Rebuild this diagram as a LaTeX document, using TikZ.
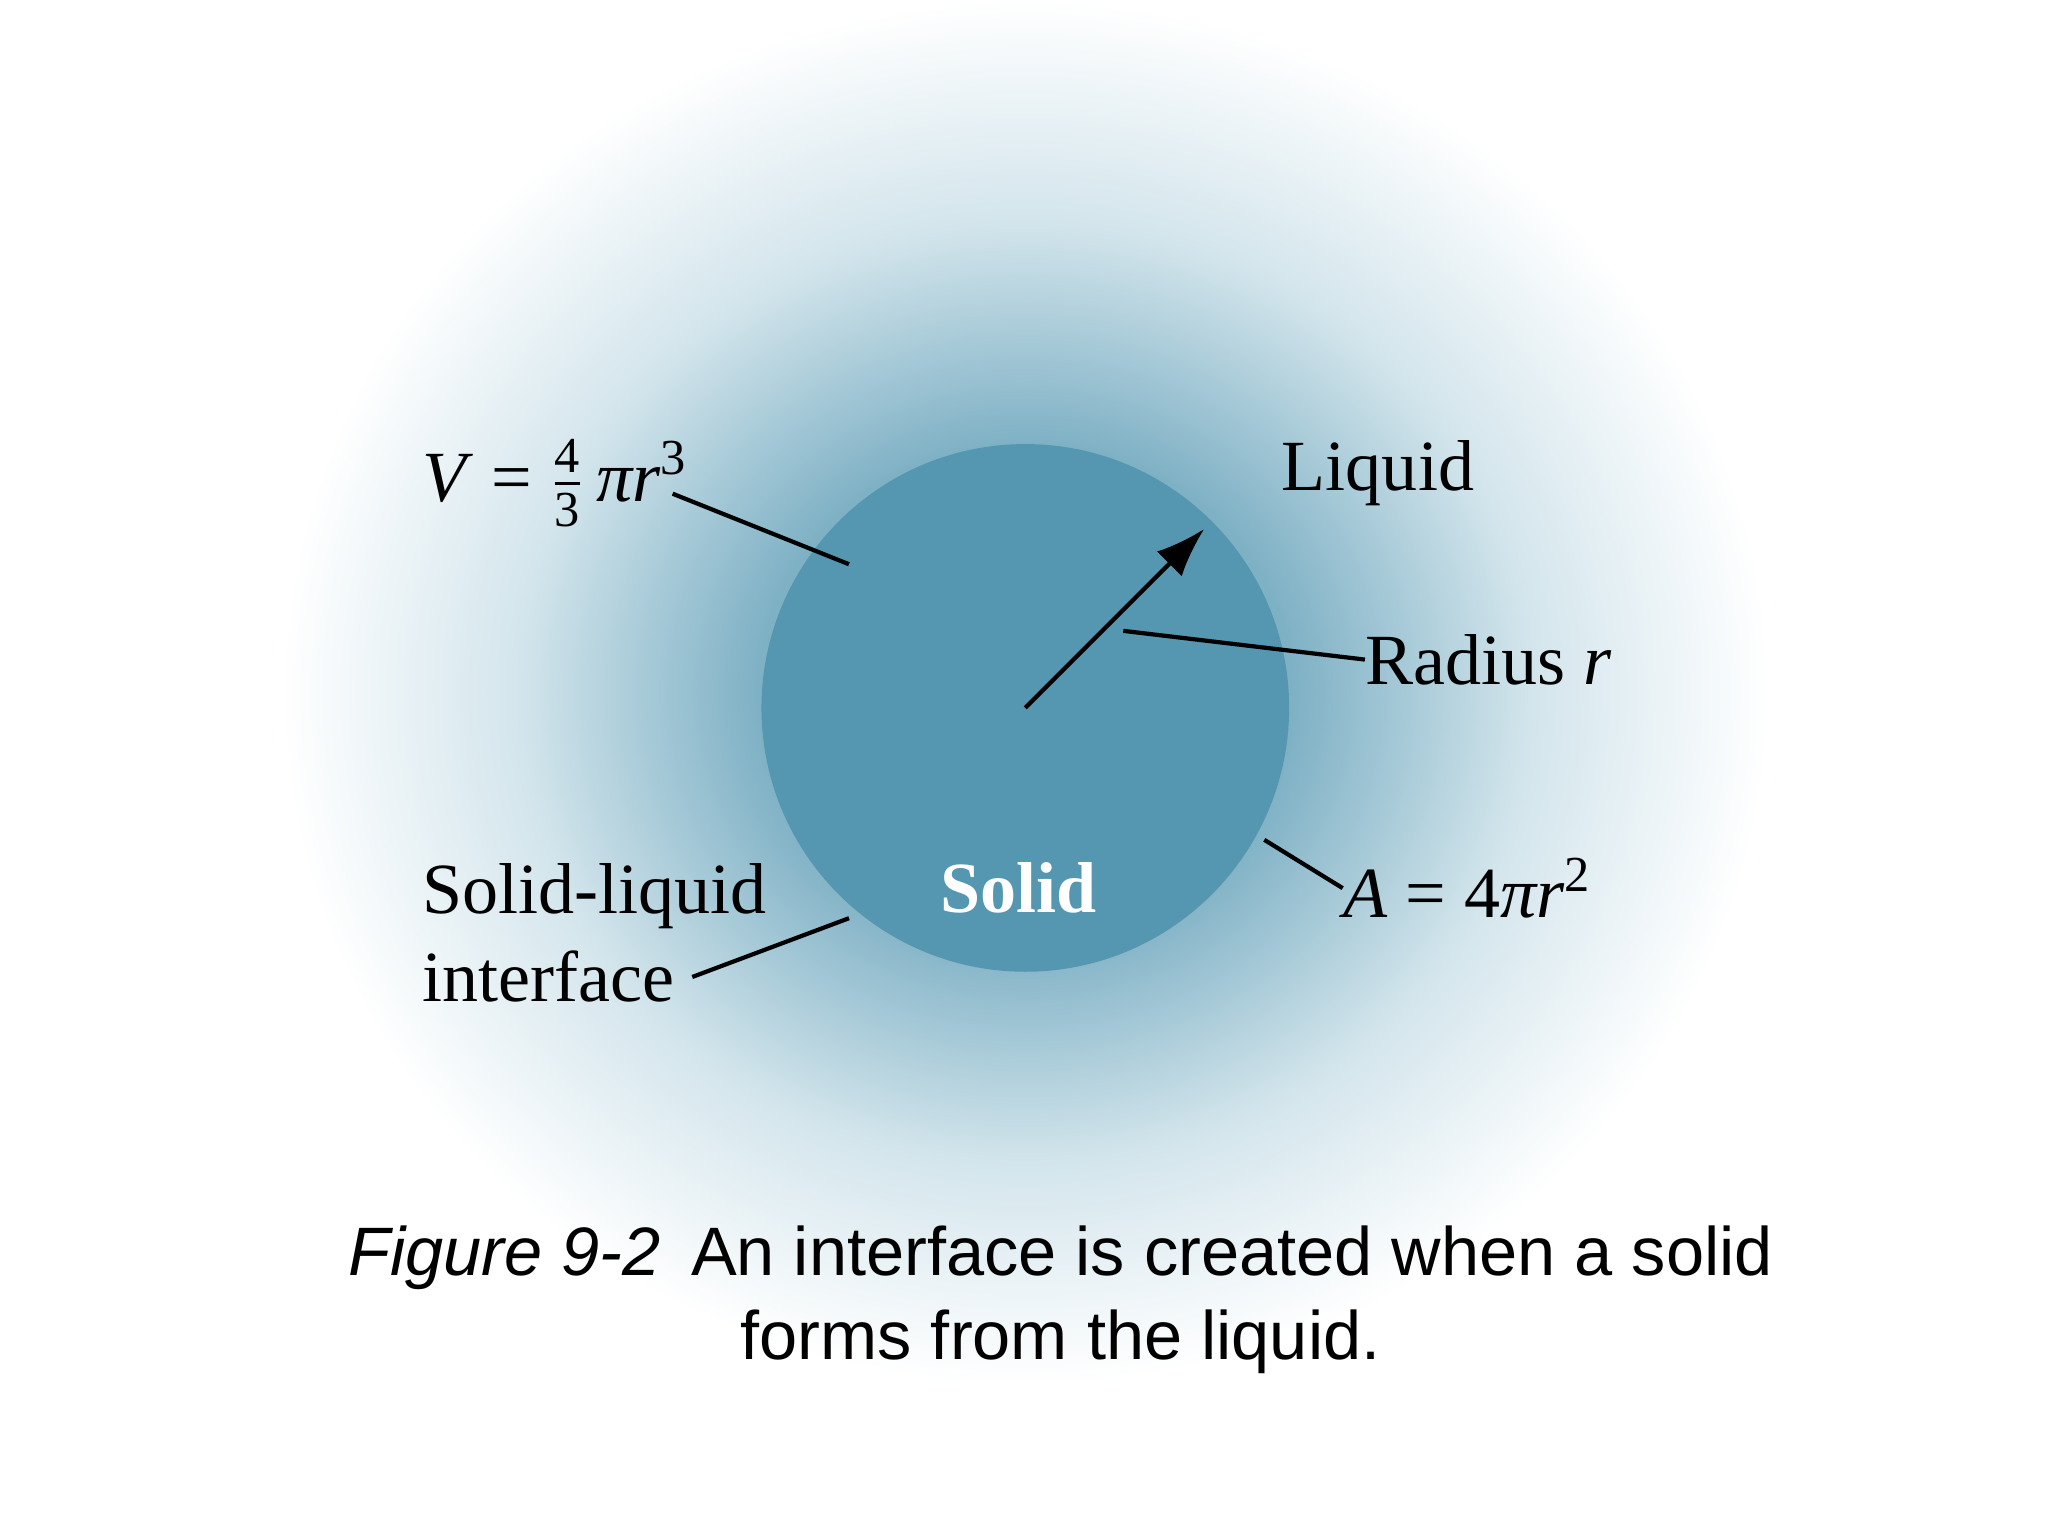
\documentclass[tikz,border=0pt]{standalone}
\usepackage{amsmath}
\usepackage{fontspec}
\setmainfont{Liberation Serif}
\setsansfont{Liberation Sans}
\usetikzlibrary{arrows.meta}
\definecolor{haloA}{HTML}{7FB1C5}
\definecolor{haloB}{HTML}{D3E5EC}
\definecolor{solidc}{HTML}{5597B1}
\pgfdeclareradialshading{glow}{\pgfpoint{0bp}{0bp}}{color(0bp)=(haloA); color(9bp)=(haloA); color(17bp)=(haloB); color(25bp)=(white); color(50bp)=(white)}
\tikzset{lbl/.style={font=\fontsize{20.5}{24}\selectfont, inner sep=0pt},
  lead/.style={line width=1.2pt, black}}
\begin{document}
\begin{tikzpicture}[x=0.01306cm, y=-0.01306cm]
\useasboundingbox (0,0) rectangle (1568,1176);
\fill[white] (0,0) rectangle (1568,1176);
\shade[shading=glow] (785,530) ellipse [x radius=570, y radius=530];
\node[circle, fill=solidc, minimum size={404*0.01306cm}, inner sep=0pt] (sol) at (785,542) {};
\coordinate (ctr) at (785,542);
\coordinate (tip) at (922,405);
\draw[lead, -{Latex[length=14pt,width=10pt]}] (ctr) -- (tip);
\node[lbl] (liq) at (1055,362) {Liquid};
\node[lbl, anchor=west] (rad) at (1045,505) {Radius \textit{r}};
\coordinate (r1) at (860,483);
\draw[lead] (r1) -- (rad.west);
\node[lbl] (vol) at (425,370) {\textit{V} = $\frac{\text{4}}{\text{3}}$\,\textit{πr}\textsuperscript{3}};
\coordinate (v1) at (515,378);
\coordinate (v2) at (650,432);
\draw[lead] (v1) -- (v2);
\node[lbl, anchor=west] (area) at (1028,680) {\textit{A} = 4\textit{πr}\textsuperscript{2}};
\coordinate (a1) at (968,643);
\draw[lead] (a1) -- (area.west);
\node[lbl, text=white, font=\fontsize{20.5}{24}\selectfont\bfseries] (sl) at (780,680) {Solid};
\node[lbl, align=left, anchor=west, font=\fontsize{20.5}{25}\selectfont] (intf) at (323,714) {Solid-liquid\\interface};
\coordinate (i1) at (530,748);
\coordinate (i2) at (650,703);
\draw[lead] (i1) -- (i2);
\node[align=center, font=\sffamily\fontsize{19.5}{24}\selectfont] (cap) at (812,995) {\textit{Figure 9-2}\, An interface is created when a solid\\forms from the liquid.};
\end{tikzpicture}
\end{document}
